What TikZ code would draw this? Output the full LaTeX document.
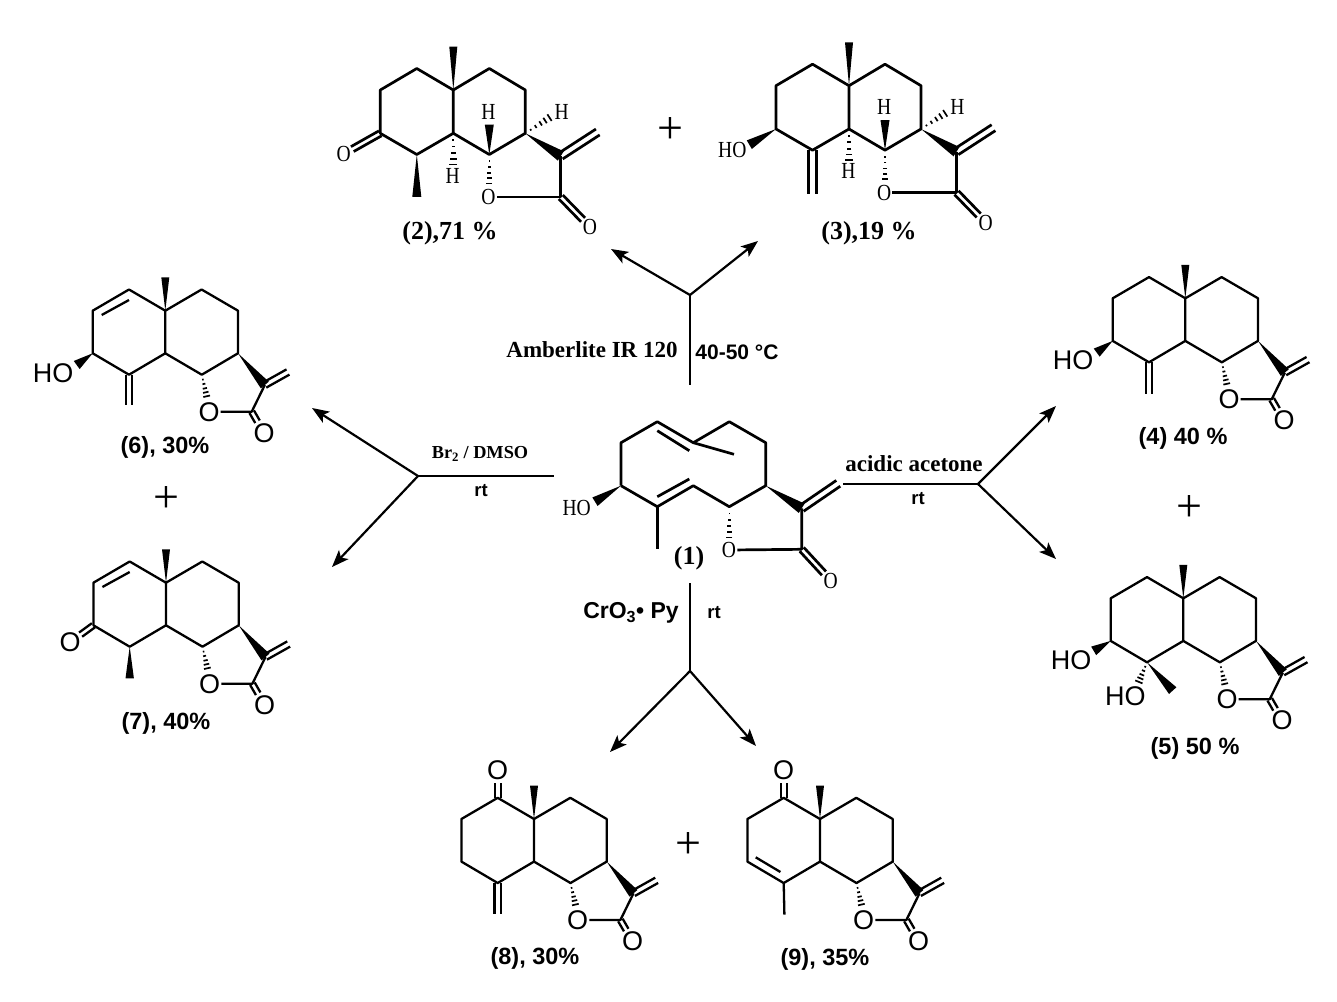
\documentclass[tikz,border=0pt]{standalone}
\usepackage{fontspec}
\setmainfont{Liberation Serif}
\setsansfont{Liberation Sans}
\newfontfamily\narrowserif[FakeStretch=0.85]{Liberation Serif}
\usetikzlibrary{calc}
\usetikzlibrary{arrows.meta}

\newcommand{\wedgebond}[3]{\fill ($(#1)$) -- ($(#2)!#3!90:(#1)$) -- ($(#2)!#3!-90:(#1)$) -- cycle;}
\newcommand{\hashbond}[3]{\foreach \t in {0.22,0.42,0.62,0.8,0.98}
  \draw[line width=1.7pt] ($(#1)!\t!(#2)!\t*#3!90:(#2)$) -- ($(#1)!\t!(#2)!\t*#3!-90:(#2)$);}
\newcommand{\dbond}[4][]{\draw[bond,#1] ($(#2)!#4!90:(#3)$) -- ($(#3)!#4!-90:(#2)$);
  \draw[bond,#1] ($(#2)!#4!-90:(#3)$) -- ($(#3)!#4!90:(#2)$);}

\tikzset{
  bond/.style={line width=2.3pt,line join=round},
  rxn/.style={line width=2.2pt,-,>={Stealth[length=17pt,width=13pt,inset=4pt]}},
  satom/.style={font=\sffamily\fontsize{27}{28}\selectfont,inner sep=1pt},
  ratom/.style={font=\narrowserif\fontsize{23}{24}\selectfont,inner sep=1pt},
  slabel/.style={font=\sffamily\bfseries\fontsize{23.5}{26}\selectfont,inner sep=0pt},
  rlabel/.style={font=\rmfamily\bfseries\fontsize{26}{28}\selectfont,inner sep=0pt},
  cond/.style={font=\rmfamily\bfseries\fontsize{23}{25}\selectfont,inner sep=0pt},
  scond/.style={font=\sffamily\bfseries\fontsize{21}{23}\selectfont,inner sep=0pt},
  srt/.style={font=\sffamily\bfseries\fontsize{18.5}{20}\selectfont,inner sep=0pt},
  plus/.style={font=\rmfamily\fontsize{46}{48}\selectfont,inner sep=0pt},
  sansframe/.pic={
    \coordinate (-c10) at (0,0);
    \coordinate (-c1) at (-36.3,-21.2);
    \coordinate (-c2) at (-72.6,0);
    \coordinate (-c3) at (-72.6,42.6);
    \coordinate (-c4) at (-36.3,64);
    \coordinate (-c5) at (0,42.6);
    \coordinate (-c6) at (36.5,64);
    \coordinate (-c7) at (72.7,42.6);
    \coordinate (-c8) at (72.7,0);
    \coordinate (-c9) at (36.3,-21.2);
    \coordinate (-c11) at (99.5,74.3);
    \coordinate (-c12) at (86.4,101);
    \coordinate (-me) at (0,-33.4);
    \coordinate (-ch2) at (122.7,61.3);
    \coordinate (-hash) at (41.5,86);
    \node[satom] (-o) at (43.7,101) {O};
    \node[satom] (-oc) at (98.7,122.3) {O};
    \draw[bond] (-c10) -- (-c1) -- (-c2) -- (-c3) -- (-c4) -- (-c5) -- cycle;
    \draw[bond] (-c5) -- (-c6) -- (-c7) -- (-c8) -- (-c9) -- (-c10);
    \draw[bond] (-c11) -- (-c12) -- (-o);
    \wedgebond{-c10}{-me}{4pt}
    \wedgebond{-c7}{-c11}{5.2pt}
    \hashbond{-c6}{-hash}{3.5pt}
    \dbond{-c11}{-ch2}{3pt}
    \dbond[shorten >=13pt]{-c12}{-oc}{2.6pt}
  },
  serifframe/.pic={
    \coordinate (-c10) at (0,0);
    \coordinate (-c1) at (-36.5,-21.5);
    \coordinate (-c2) at (-73,0);
    \coordinate (-c3) at (-73,43.3);
    \coordinate (-c4) at (-36.5,64.5);
    \coordinate (-c5) at (0,43.3);
    \coordinate (-c6) at (36,64.5);
    \coordinate (-c7) at (72,43.3);
    \coordinate (-c8) at (72,0);
    \coordinate (-c9) at (36,-21.5);
    \coordinate (-c11) at (107.5,66);
    \coordinate (-c12) at (107.5,107);
    \coordinate (-me) at (0,-43.3);
    \coordinate (-ch2) at (144.5,42);
    \coordinate (-hup) at (36,34.5);
    \coordinate (-hdown) at (0,75);
    \coordinate (-hside) at (96.7,27.3);
    \coordinate (-hash) at (36,94);
    \node[ratom] (-o) at (35.2,107) {O};
    \node[ratom] (-oc) at (136.7,137) {O};
    \node[ratom] (-h1) at (35.2,21.7) {H};
    \node[ratom] (-h2) at (-0.6,85.7) {H};
    \node[ratom] (-h3) at (108.3,21.7) {H};
    \draw[bond,line width=2.7pt] (-c10) -- (-c1) -- (-c2) -- (-c3) -- (-c4) -- (-c5) -- cycle;
    \draw[bond,line width=2.7pt] (-c5) -- (-c6) -- (-c7) -- (-c8) -- (-c9) -- (-c10);
    \draw[bond,line width=2.7pt] (-c11) -- (-c12) -- (-o);
    \wedgebond{-c10}{-me}{4pt}
    \wedgebond{-c7}{-c11}{5.5pt}
    \wedgebond{-c6}{-hup}{4.5pt}
    \hashbond{-c6}{-hash}{3pt}
    \hashbond{-c5}{-hdown}{4pt}
    \hashbond{-c7}{-hside}{4pt}
    \dbond[line width=2.7pt]{-c11}{-ch2}{3.5pt}
    \dbond[line width=2.7pt,shorten >=10pt]{-c12}{-oc}{2.8pt}
  }
}

\begin{document}
\begin{tikzpicture}[x=1pt,y=-1pt]
  \useasboundingbox (0,0) rectangle (1337,1001);

  % starting material
  \coordinate (a) at (621,442.7);
  \coordinate (b) at (657.3,421.7);
  \coordinate (c) at (693.3,442.7);
  \coordinate (d) at (729.3,421.7);
  \coordinate (e) at (765.7,442.7);
  \coordinate (f) at (765.7,485.7);
  \coordinate (g) at (729.3,506.7);
  \coordinate (h) at (693.3,485.7);
  \coordinate (i) at (657.3,506.7);
  \coordinate (j) at (621,485.7);
  \coordinate (k) at (801.7,508.3);
  \coordinate (l) at (801.7,549.3);
  \coordinate (cme) at (734,454.3);
  \coordinate (ime) at (657.3,549.3);
  \coordinate (jtip) at (595,501.7);
  \coordinate (gtip) at (729.3,538);
  \coordinate (kend) at (838.3,483.3);
  \coordinate (bin) at (657.3,430.7);
  \coordinate (cin) at (689.3,450.7);
  \coordinate (hin) at (689.3,479);
  \coordinate (iin) at (657.3,496.7);
  \node[ratom] (oh) at (576.7,507.7) {HO};
  \node[ratom] (o) at (729,550) {O};
  \node[ratom] (oc) at (830.7,580.7) {O};
  \draw[bond,line width=2.7pt] (j) -- (a) -- (b) -- (c) -- (d) -- (e) -- (f) -- (g) -- (h) -- (i) -- (j);
  \draw[bond,line width=2.7pt] (c) -- (cme);
  \draw[bond,line width=2.7pt] (i) -- (ime);
  \draw[bond,line width=2.7pt] (bin) -- (cin);
  \draw[bond,line width=2.7pt] (hin) -- (iin);
  \draw[bond,line width=2.7pt] (k) -- (l) -- (o);
  \wedgebond{j}{jtip}{5pt}
  \wedgebond{f}{k}{5.5pt}
  \hashbond{g}{gtip}{3pt}
  \dbond[line width=2.7pt]{k}{kend}{3.5pt}
  \dbond[line width=2.7pt,shorten >=10pt]{l}{oc}{2.8pt}
  \node[rlabel] (one) at (689,558) {(1)};

  % top products
  \pic (two) at (453.3,90) {serifframe};
  \node[ratom] (two-co) at ($(two-c3)+(-36.7,20.7)$) {O};
  \coordinate (two-mtip) at ($(two-c4)+(0,42.3)$);
  \dbond[line width=2.7pt,shorten >=10pt]{two-c3}{two-co}{2.8pt}
  \wedgebond{two-c4}{two-mtip}{4.5pt}
  \node[rlabel] (twolabel) at (450,233) {(2),71 \%};

  \pic (three) at (849,85.7) {serifframe};
  \node[ratom] (three-ho) at ($(three-c3)+(-43.7,21.4)$) {HO};
  \coordinate (three-otip) at ($(three-c3)+(-26.7,15.7)$);
  \coordinate (three-ex) at ($(three-c4)+(0,43.3)$);
  \wedgebond{three-c3}{three-otip}{5pt}
  \dbond[line width=2.7pt]{three-c4}{three-ex}{4pt}
  \node[rlabel] (threelabel) at (869,233) {(3),19 \%};

  \node[plus] (plusa) at (670,131) {+};

  % left products
  \pic (six) at (165.3,310.7) {sansframe};
  \node[satom] (six-ho) at ($(six-c3)+(-39.5,19.5)$) {HO};
  \coordinate (six-otip) at ($(six-c3)+(-16,11.7)$);
  \coordinate (six-ex) at ($(six-c4)+(0,30)$);
  \coordinate (six-ia) at ($(six-c2)+(9,4.3)$);
  \coordinate (six-ib) at ($(six-c1)+(0,10.5)$);
  \wedgebond{six-c3}{six-otip}{5pt}
  \dbond{six-c4}{six-ex}{3.3pt}
  \draw[bond] (six-ia) -- (six-ib);
  \node[slabel] (sixlabel) at (165,447) {(6), 30\%};

  \pic (seven) at (166,582.7) {sansframe};
  \node[satom] (seven-co) at ($(seven-c3)+(-23.3,17)$) {O};
  \coordinate (seven-mtip) at ($(seven-c4)+(0,31.7)$);
  \coordinate (seven-ia) at ($(seven-c2)+(9,4.3)$);
  \coordinate (seven-ib) at ($(seven-c1)+(0,10.5)$);
  \dbond[shorten >=13pt]{seven-c3}{seven-co}{2.6pt}
  \wedgebond{seven-c4}{seven-mtip}{4.2pt}
  \draw[bond] (seven-ia) -- (seven-ib);
  \node[slabel] (sevenlabel) at (166,723) {(7), 40\%};

  \node[plus] (plusb) at (166,499) {+};

  % right products
  \pic (four) at (1185.3,298.3) {sansframe};
  \node[satom] (four-ho) at ($(four-c3)+(-39.5,19.5)$) {HO};
  \coordinate (four-otip) at ($(four-c3)+(-16,11.7)$);
  \coordinate (four-ex) at ($(four-c4)+(0,32)$);
  \wedgebond{four-c3}{four-otip}{5pt}
  \dbond{four-c4}{four-ex}{3.3pt}
  \node[slabel] (fourlabel) at (1183,438) {(4) 40 \%};

  \pic (five) at (1183.3,598.3) {sansframe};
  \node[satom] (five-ho) at ($(five-c3)+(-39.5,19)$) {HO};
  \node[satom] (five-hob) at ($(five-c4)+(-21.7,34.3)$) {HO};
  \coordinate (five-otip) at ($(five-c3)+(-17,10)$);
  \coordinate (five-mtip) at ($(five-c4)+(25.7,28.3)$);
  \coordinate (five-htip) at ($(five-c4)+(-8.3,20)$);
  \wedgebond{five-c3}{five-otip}{5pt}
  \wedgebond{five-c4}{five-mtip}{5pt}
  \hashbond{five-c4}{five-htip}{4pt}
  \node[slabel] (fivelabel) at (1195,748) {(5) 50 \%};

  \node[plus] (plusc) at (1189,508) {+};

  % bottom products
  \pic (eight) at (534,819) {sansframe};
  \node[satom] (eight-co) at ($(eight-c1)+(0,-27.7)$) {O};
  \coordinate (eight-ex) at ($(eight-c4)+(0,31)$);
  \dbond[shorten >=13pt]{eight-c1}{eight-co}{3pt}
  \dbond{eight-c4}{eight-ex}{3.3pt}
  \node[slabel] (eightlabel) at (535,958) {(8), 30\%};

  \pic (nine) at (820,819) {sansframe};
  \node[satom] (nine-co) at ($(nine-c1)+(0,-27.7)$) {O};
  \coordinate (nine-mtip) at ($(nine-c4)+(0.7,31.7)$);
  \coordinate (nine-ia) at ($(nine-c3)+(8.3,-4.3)$);
  \coordinate (nine-ib) at ($(nine-c4)+(-3.3,-11)$);
  \dbond[shorten >=13pt]{nine-c1}{nine-co}{3pt}
  \draw[bond] (nine-c4) -- (nine-mtip);
  \draw[bond] (nine-ia) -- (nine-ib);
  \node[slabel] (ninelabel) at (825,959) {(9), 35\%};

  \node[plus] (plusd) at (688,845) {+};

  % reaction arrows
  \coordinate (topfork) at (690,295);
  \coordinate (topfoot) at (690,385);
  \coordinate (topa) at (611,249);
  \coordinate (topb) at (758,241);
  \coordinate (leftfork) at (418,476);
  \coordinate (leftfoot) at (554,476);
  \coordinate (lefta) at (312,408);
  \coordinate (leftb) at (332,567);
  \coordinate (rightfork) at (978,484);
  \coordinate (rightfoot) at (843,484);
  \coordinate (righta) at (1056,406);
  \coordinate (rightb) at (1056,559);
  \coordinate (downfork) at (690,671);
  \coordinate (downfoot) at (690,583);
  \coordinate (downa) at (610,752);
  \coordinate (downb) at (756,746);

  \path[rxn]
    (topfork) edge (topfoot)
              edge[->] (topa)
              edge[->] (topb)
    (leftfork) edge (leftfoot)
               edge[->] (lefta)
               edge[->] (leftb)
    (rightfork) edge (rightfoot)
                edge[->] (righta)
                edge[->] (rightb)
    (downfork) edge (downfoot)
               edge[->] (downa)
               edge[->] (downb);

  \node[cond] (amber) at (592,350) {Amberlite IR 120};
  \node[scond] (temp) at (737,352) {40-50 °C};
  \node[cond,font=\rmfamily\bfseries\fontsize{18.3}{20}\selectfont] (brom) at (480,454) {Br\textsubscript{2} / DMSO};
  \node[srt] (rtleft) at (481,491) {rt};
  \node[cond] (acid) at (914,464) {acidic acetone};
  \node[srt] (rtright) at (918,499) {rt};
  \node[scond,font=\sffamily\bfseries\fontsize{23}{25}\selectfont] (cro) at (631,613) {CrO\textsubscript{3}• Py};
  \node[srt] (rtdown) at (714,613) {rt};
\end{tikzpicture}
\end{document}
